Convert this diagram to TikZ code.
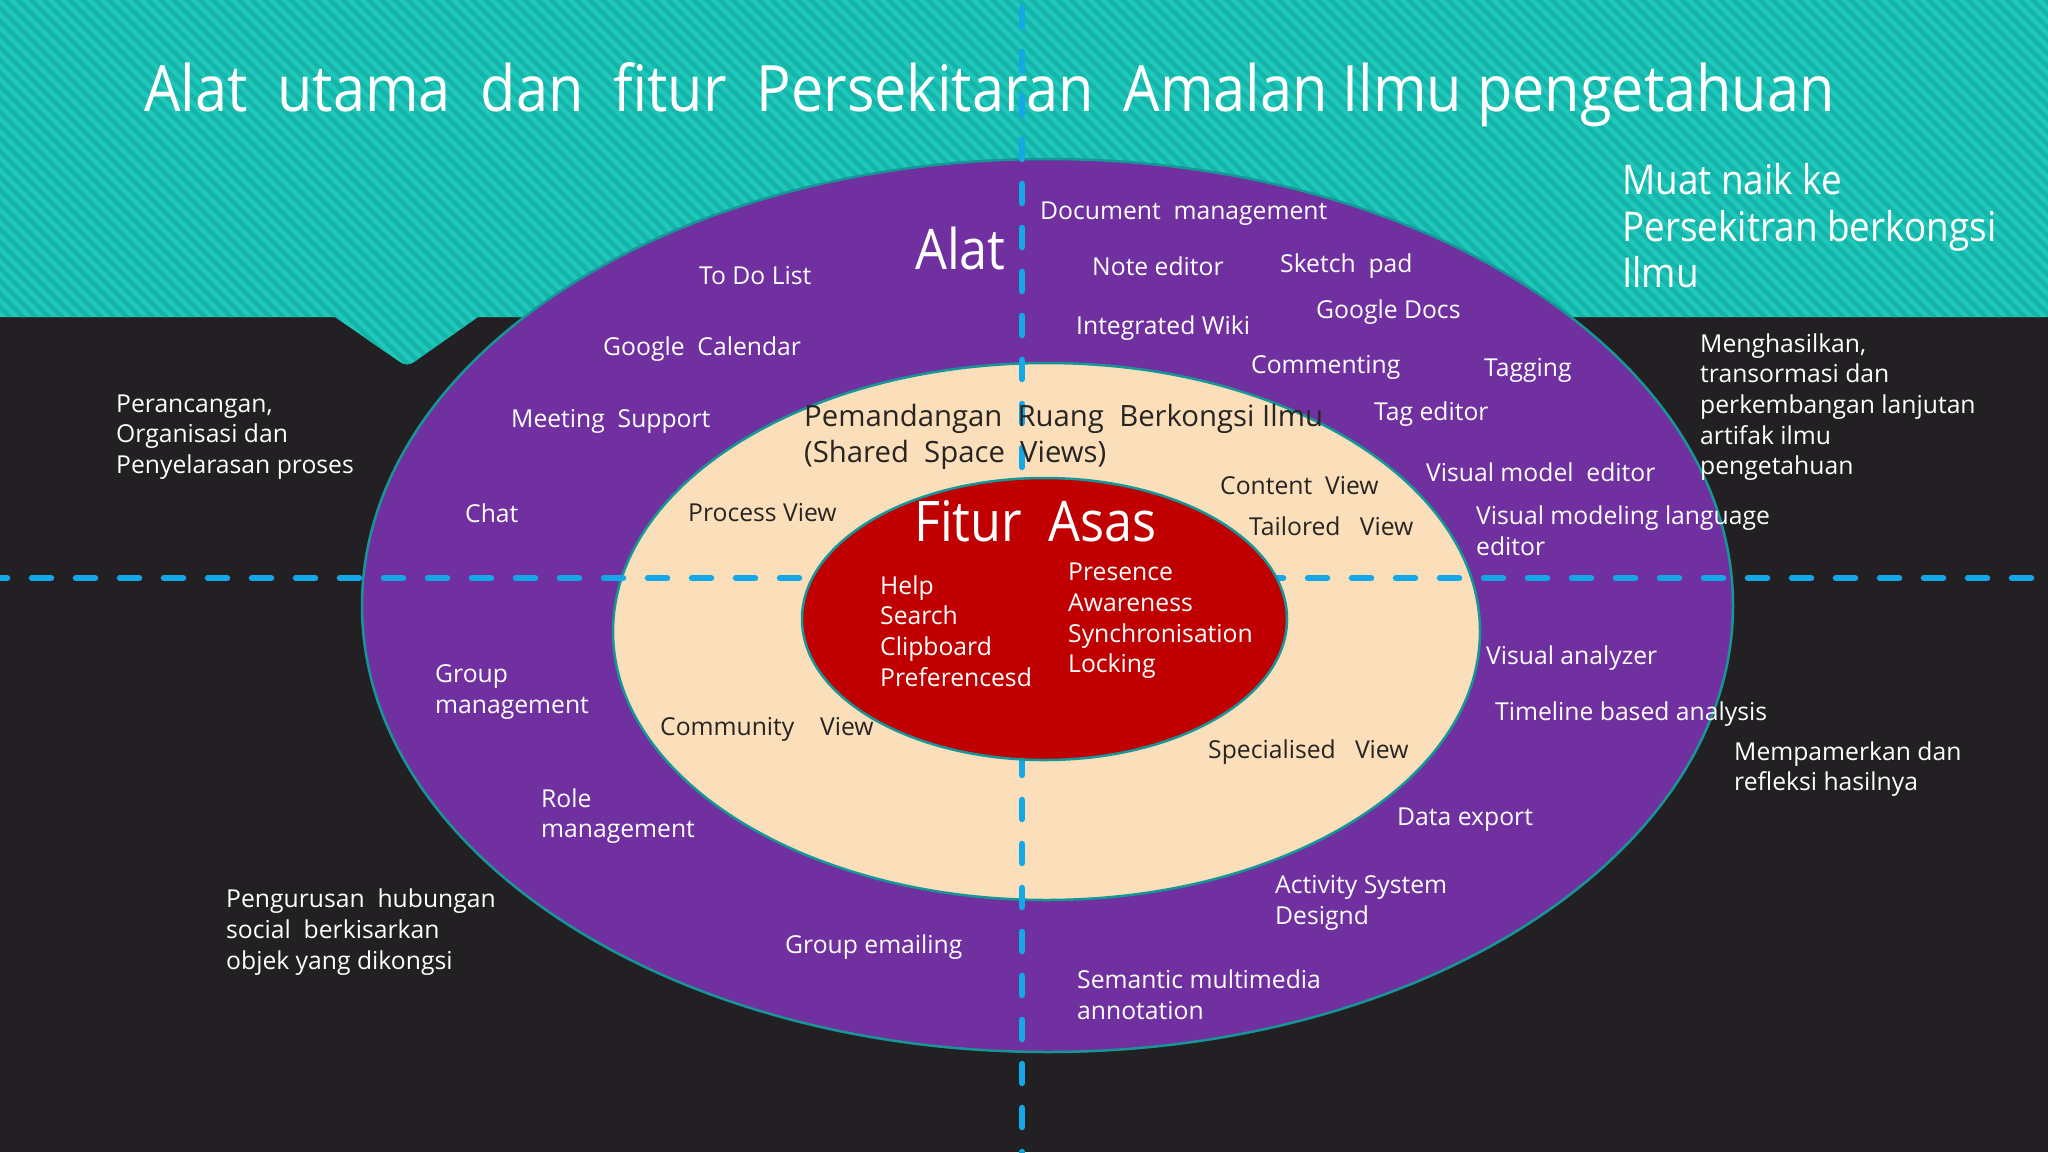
\documentclass[tikz,border=0pt]{standalone}
\usepackage{fontspec}
\setmainfont{Open Sans}
\newfontfamily\narrowfont[FakeStretch=0.9]{Open Sans}
\definecolor{bgdark}{RGB}{34,32,34}
\definecolor{tealA}{RGB}{30,200,186}
\definecolor{tealB}{RGB}{22,180,168}
\definecolor{purp}{RGB}{112,48,160}
\definecolor{beige}{RGB}{250,223,186}
\definecolor{redin}{RGB}{192,0,0}
\definecolor{rim}{RGB}{22,150,150}
\definecolor{dashblue}{RGB}{20,168,232}
\definecolor{darktxt}{RGB}{40,36,34}
\newcommand{\lblfont}{\fontsize{24.7}{30.7}\selectfont}
\newcommand{\midfont}{\fontsize{29.3}{36.6}\selectfont}
\newcommand{\bigfont}{\narrowfont\fontsize{56}{60}\selectfont}
\newcommand{\muatfont}{\narrowfont\fontsize{41}{46.5}\selectfont}
\newcommand{\titlefont}{\narrowfont\fontsize{64}{70}\selectfont}
\tikzset{
  wl/.style={font=\lblfont, text=white, inner sep=0pt, anchor=west, align=left, yshift=-4pt},
  dl/.style={font=\lblfont, text=darktxt, inner sep=0pt, anchor=west, align=left, yshift=-4pt},
  ring/.style={draw=rim, line width=2.5pt},
  axis/.style={draw=dashblue, line width=6.5pt, line cap=round, dash pattern=on 19pt off 25pt}
}
\begin{document}
\begin{tikzpicture}[x=1pt,y=-1pt]
\useasboundingbox (0,0) rectangle (2048,1152);
% background
\fill[bgdark] (0,0) rectangle (2048,1152);
% teal band with notch and stripes
\begin{scope}
  \clip (0,0) -- (2048,0) -- (2048,317) -- (478,317) -- (414,362)
        to[out=215,in=325] (400,362) -- (335,317) -- (0,317) -- cycle;
  \fill[tealA] (0,0) rectangle (2048,400);
  \foreach \i in {-32,...,158} \draw[tealB, line width=4.5pt] (\i*13,-5) -- ++(410,410);
\end{scope}
% ellipses
\path[fill=purp, ring] (1047.5,605.5) ellipse [x radius=685.5, y radius=446.5];
\path[fill=beige, ring] (1046.5,631.5) ellipse [x radius=433.5, y radius=268.5];
% axes
\coordinate (vt) at (1022,8);
\coordinate (vb) at (1022,1160);
\coordinate (hl) at (-12,578);
\coordinate (hr) at (2060,578);
\draw[axis] (vt) -- (vb);
\draw[axis] (hl) -- (hr);
\path[fill=redin, ring] (1044.5,619) ellipse [x radius=242.5, y radius=141];
% title
\node[font=\titlefont, text=white, inner sep=0pt, anchor=base west] (title) at (144,111)
  {Alat~~utama~~dan~~fitur~~Persekitaran~~Amalan Ilmu pengetahuan};
\node[font=\muatfont, text=white, inner sep=0pt, anchor=west, align=left] (muat) at (1622,226)
  {Muat naik ke\\Persekitran berkongsi\\Ilmu};
% black-region texts
\node[wl] (peran) at (116,433) {Perancangan,\\Organisasi dan\\Penyelarasan proses};
\node[wl] (peng) at (226,928) {Pengurusan~~hubungan\\social~~berkisarkan\\objek yang dikongsi};
\node[wl] (meng) at (1700,403) {Menghasilkan,\\transormasi dan\\perkembangan lanjutan\\artifak ilmu\\pengetahuan};
\node[wl] (memp) at (1734,765) {Mempamerkan dan\\refleksi hasilnya};
% purple-region texts
\node[font=\bigfont, text=white, inner sep=0pt, anchor=west] (alat) at (915,248) {Alat};
\node[wl] (todo) at (699,272) {To Do List};
\node[wl] (gcal) at (603,345) {Google~~Calendar};
\node[wl] (meet) at (511,417) {Meeting~~Support};
\node[wl] (chat) at (465,509) {Chat};
\node[wl] (docm) at (1040,210) {Document~~management};
\node[wl] (note) at (1092,262) {Note editor};
\node[wl] (sketch) at (1280,262) {Sketch~~pad};
\node[wl] (gdocs) at (1316,308) {Google Docs};
\node[wl] (wiki) at (1076,324) {Integrated Wiki};
\node[wl] (comm) at (1251,363) {Commenting};
\node[wl] (tagg) at (1484,366) {Tagging};
\node[wl] (tage) at (1374,410) {Tag editor};
\node[wl] (vme) at (1426,468) {Visual model~~editor};
\node[wl] (vml) at (1476,527) {Visual modeling language\\editor};
\node[wl] (van) at (1486,654) {Visual analyzer};
\node[wl] (tba) at (1495,710) {Timeline based analysis};
\node[wl] (dex) at (1397,816) {Data export};
\node[wl] (asd) at (1275,899) {Activity System\\Designd};
\node[wl] (smm) at (1077,991) {Semantic multimedia\\annotation};
\node[wl] (gem) at (785,943) {Group emailing};
\node[wl] (role) at (541,812) {Role\\management};
\node[wl] (grp) at (435,688) {Group\\management};
% beige-region texts
\node[dl, font=\midfont] (psv) at (804,433) {Pemandangan~~Ruang~~Berkongsi Ilmu\\(Shared~~Space~~Views)};
\node[dl] (proc) at (688,509) {Process View};
\node[dl] (cont) at (1220,482) {Content~~View};
\node[dl] (tail) at (1249,522) {Tailored~~~View};
\node[dl] (commv) at (660,725) {Community~~~~View};
\node[dl] (spec) at (1208,748) {Specialised~~~View};
% red-region texts
\node[font=\bigfont, text=white, inner sep=0pt, anchor=west] (fitur) at (914,521) {Fitur~~Asas};
\node[wl] (help) at (880,627) {Help\\Search\\Clipboard\\Preferencesd};
\node[wl] (pres) at (1068,617) {Presence\\Awareness\\Synchronisation\\Locking};
\end{tikzpicture}
\end{document}
